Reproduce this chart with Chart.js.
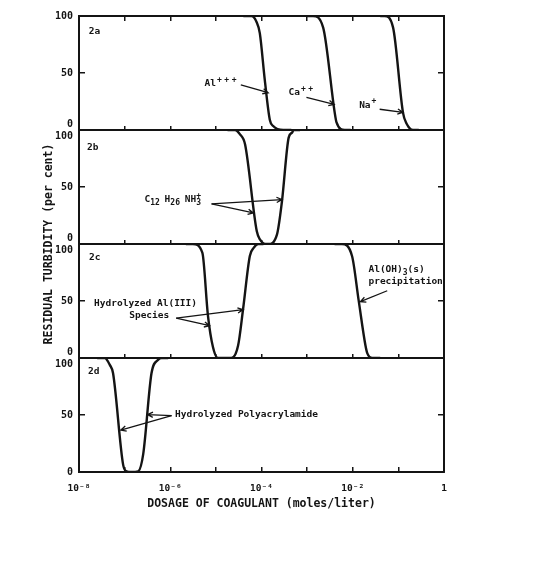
<!DOCTYPE html>
<html>
<head>
<meta charset="utf-8">
<title>Residual turbidity vs dosage of coagulant</title>
<script src="https://cdn.jsdelivr.net/npm/chart.js@4.4.1/dist/chart.umd.min.js"></script>
<style>
  html, body { margin: 0; background: #fff; }
  #chart { display: block; }
</style>
</head>
<body>
<canvas id="chart" width="551" height="571"></canvas>
<script>
// dosage of coagulant (moles/liter) against residual turbidity (per cent)
// 2a - simple ions
const alDose = [4.0e-5, 6.04e-5, 7.76e-5, 9.18e-5, 1.18e-4, 1.52e-4, 1.80e-4, 2.99e-4, 4.5e-4];
const alTurb = [100, 100, 95, 85, 44, 9, 3.5, 0, 0];
const caDose = [1.0e-3, 1.355e-3, 2.24e-3, 4.03e-3, 4.39e-3, 6.67e-3, 9.0e-3];
const caTurb = [100, 100, 90, 15, 7, 0, 0];
const naDose = [4.0e-2, 5.01e-2, 7.64e-2, 0.1265, 0.1496, 0.2094, 0.28];
const naTurb = [100, 100, 90, 15, 6, 0, 0];
// 2b - dodecylammonium
const amineDose = [1.8e-5, 2.62e-5, 3.38e-5, 4.36e-5, 7.89e-5, 9.33e-5, 1.20e-4, 1.42e-4, 2.18e-4, 2.81e-4, 3.94e-4, 4.67e-4, 5.07e-4, 7.0e-4];
const amineTurb = [100, 100, 96.2, 87.4, 11.1, 3.8, 0, 0, 8.2, 37.5, 93.3, 97.7, 100, 100];
// 2c - hydrolyzed Al(III) and Al(OH)3 precipitation
const alHydDose = [2.2e-6, 3.13e-6, 5.05e-6, 6.70e-6, 8.63e-6, 1.11e-5, 2.19e-5, 3.07e-5, 3.95e-5, 5.55e-5, 6.81e-5, 8.45e-5, 1.1e-4];
const alHydTurb = [100, 100, 92.4, 37.2, 9.6, 0, 0, 11, 43, 89.5, 96.8, 100, 100];
const alOhDose = [4.0e-3, 5.81e-3, 9.64e-3, 1.35e-2, 1.90e-2, 2.1e-2, 2.66e-2, 4.0e-2];
const alOhTurb = [100, 100, 89.5, 50.3, 11, 3.8, 0, 0];
// 2d - hydrolyzed polyacrylamide
const pamDose = [2.5e-8, 3.67e-8, 4.73e-8, 5.58e-8, 9.27e-8, 1.10e-7, 1.41e-7, 1.98e-7, 2.55e-7, 3.88e-7, 5.45e-7, 6.44e-7, 9.0e-7];
const pamTurb = [100, 100, 94, 86.6, 6.5, 0.6, 0, 0.6, 15.4, 86.6, 98.5, 100, 100];

// axis ticks
const xTickValues = [1e-8, 1e-7, 1e-6, 1e-5, 1e-4, 1e-3, 1e-2, 1e-1, 1];
const xTickText = ['10⁻⁸', '', '10⁻⁶', '', '10⁻⁴', '', '10⁻²', '', '1'];
const yTickValues = [0, 50, 100];

const ink = '#141414';
const mono = 'DejaVu Sans Mono';
const noteFont = 'bold 9.5px "DejaVu Sans Mono"';
const smallFont = 'bold 8px "DejaVu Sans Mono"';

// labels and pointers inside the panels (positions in data units)
const notes = [
    {axis: 'ya', x: 1.63e-8, y: 86, parts: [['2a']]},
    {axis: 'yb', x: 1.5e-8, y: 84.3, parts: [['2b']]},
    {axis: 'yc', x: 1.66e-8, y: 88.4, parts: [['2c']]},
    {axis: 'yd', x: 1.58e-8, y: 88, parts: [['2d']]},
    {axis: 'ya', x: 5.65e-6, y: 40.8, parts: [['Al'], ['+++', 'sup']]},
    {axis: 'ya', x: 3.9e-4, y: 32.9, parts: [['Ca'], ['++', 'sup']]},
    {axis: 'ya', x: 1.38e-2, y: 21.9, parts: [['Na'], ['+', 'sup']]},
    {axis: 'yb', x: 2.72e-7, y: 39, parts: [['C'], ['12 ', 'sub'], ['H'], ['26 ', 'sub'], ['NH'], ['3', 'sub'], ['+', 'over']]},
    {axis: 'yc', x: 2.14e-8, y: 47.4, parts: [['Hydrolyzed Al(III)']]},
    {axis: 'yc', x: 1.26e-7, y: 37.3, parts: [['Species']]},
    {axis: 'yc', x: 2.21e-2, y: 77.9, parts: [['Al(OH)'], ['3', 'sub'], ['(s)']]},
    {axis: 'yc', x: 2.21e-2, y: 67.5, parts: [['precipitation']]},
    {axis: 'yd', x: 1.27e-6, y: 50.6, parts: [['Hydrolyzed Polyacrylamide']]}
];
const pointers = [
    {axis: 'ya', from: [3.52e-5, 39.5], to: [1.40e-4, 32.7]},
    {axis: 'ya', from: [9.66e-4, 28.7], to: [3.91e-3, 22.5]},
    {axis: 'ya', from: [3.89e-2, 18.2], to: [0.126, 15.5]},
    {axis: 'yb', from: [8.04e-6, 35.2], to: [2.81e-4, 39.0]},
    {axis: 'yb', from: [8.04e-6, 35.2], to: [6.64e-5, 27.3]},
    {axis: 'yc', from: [1.35e-6, 34.9], to: [7.3e-6, 28.4]},
    {axis: 'yc', from: [1.35e-6, 34.9], to: [3.95e-5, 42.4]},
    {axis: 'yc', from: [5.7e-2, 59.0], to: [1.47e-2, 49.4]},
    {axis: 'yd', from: [1.07e-6, 49.5], to: [3.17e-7, 50.4]},
    {axis: 'yd', from: [1.07e-6, 49.5], to: [8.24e-8, 36.8]}
];

const annotate = {
    id: 'annotate',
    afterDatasetsDraw(chart) {
        const {ctx, scales} = chart;
        const sx = scales.x;
        ctx.save();
        ctx.fillStyle = ink;
        ctx.strokeStyle = ink;
        ctx.textAlign = 'left';
        ctx.textBaseline = 'middle';
        for (const n of notes) {
            let x = sx.getPixelForValue(n.x);
            const y = scales[n.axis].getPixelForValue(n.y);
            let last = x;
            for (const [text, kind] of n.parts) {
                ctx.font = kind ? smallFont : noteFont;
                ctx.letterSpacing = kind === 'sup' ? '2.5px' : '0px';
                const dy = kind === 'sub' ? 3.5 : kind ? -4 : 0;
                ctx.fillText(text, kind === 'over' ? last : x + (kind === 'sup' ? 1 : 0), y + dy);
                if (kind !== 'over') {
                    last = x;
                    x += ctx.measureText(text).width;
                }
            }
        }
        ctx.letterSpacing = '0px';
        ctx.lineWidth = 1.3;
        for (const p of pointers) {
            const sy = scales[p.axis];
            const x1 = sx.getPixelForValue(p.from[0]), y1 = sy.getPixelForValue(p.from[1]);
            const x2 = sx.getPixelForValue(p.to[0]), y2 = sy.getPixelForValue(p.to[1]);
            const a = Math.atan2(y2 - y1, x2 - x1);
            ctx.beginPath();
            ctx.moveTo(x1, y1);
            ctx.lineTo(x2, y2);
            ctx.moveTo(x2 - 6 * Math.cos(a - 0.45), y2 - 6 * Math.sin(a - 0.45));
            ctx.lineTo(x2, y2);
            ctx.lineTo(x2 - 6 * Math.cos(a + 0.45), y2 - 6 * Math.sin(a + 0.45));
            ctx.stroke();
        }
        ctx.restore();
    }
};

function curve(dose, turb, axis) {
    return {
        data: dose.map((d, i) => ({x: d, y: turb[i]})),
        xAxisID: 'x',
        yAxisID: axis,
        borderColor: ink,
        borderWidth: 2.4,
        pointRadius: 0,
        fill: false,
        cubicInterpolationMode: 'monotone'
    };
}

function yLabels(isTop, isBottom) {
    return (v) => {
        if (v === 100) return isTop ? '100' : ['', '100'];
        if (v === 0) return isBottom ? '0' : ['0', ''];
        return String(v);
    };
}

// left axis of one panel (panels stack top to bottom by weight)
function panelAxis(weight, isTop, isBottom) {
    return {
        type: 'linear', axis: 'y', position: 'left', stack: 'panels', stackWeight: 1, weight: weight,
        min: 0, max: 100,
        border: {color: ink, width: 2},
        grid: {drawOnChartArea: false, tickLength: -6, color: ink, lineWidth: 1.5},
        afterBuildTicks: s => { s.ticks = yTickValues.map(v => ({value: v})); },
        ticks: {autoSkip: false, padding: 12, color: ink, font: {family: mono, size: 10, weight: 'bold'},
                callback: yLabels(isTop, isBottom)},
        afterFit: s => { s.width = 24; s.paddingTop = 0; s.paddingBottom = 0; }
    };
}

function edgeAxis(weight) {
    return {
        type: 'linear', axis: 'y', position: 'right', stack: 'edge', stackWeight: 1, weight: weight,
        min: 0, max: 100,
        border: {color: ink, width: 2},
        grid: {drawOnChartArea: false, tickLength: -6, color: ink, lineWidth: 1.5},
        afterBuildTicks: s => { s.ticks = yTickValues.map(v => ({value: v})); },
        ticks: {display: false},
        afterFit: s => { s.width = 0; }
    };
}

function doseAxis(position, extra) {
    return Object.assign({
        type: 'logarithmic', axis: 'x', position: position,
        min: 1e-8, max: 1,
        border: {color: ink, width: 2},
        grid: {drawOnChartArea: false, tickLength: -5, color: ink, lineWidth: 1.5},
        afterBuildTicks: s => { s.ticks = xTickValues.map(v => ({value: v})); },
        ticks: {display: false},
        afterFit: s => { s.height = 0; }
    }, extra);
}

new Chart(document.getElementById('chart'), {
    type: 'line',
    data: {
        datasets: [
            curve(alDose, alTurb, 'ya'),
            curve(caDose, caTurb, 'ya'),
            curve(naDose, naTurb, 'ya'),
            curve(amineDose, amineTurb, 'yb'),
            curve(alHydDose, alHydTurb, 'yc'),
            curve(alOhDose, alOhTurb, 'yc'),
            curve(pamDose, pamTurb, 'yd')
        ]
    },
    options: {
        responsive: false,
        animation: false,
        layout: {padding: {top: 16, right: 107, bottom: 0, left: 0}},
        scales: {
            x: doseAxis('bottom', {
                ticks: {autoSkip: false, maxRotation: 0, padding: 16, color: ink,
                        font: {family: mono, size: 9.5, weight: 'bold'},
                        callback: (v, i) => xTickText[i]},
                title: {display: true, text: 'DOSAGE OF COAGULANT (moles/liter)', color: ink,
                        font: {family: mono, size: 11.5, weight: 'bold'}, padding: {top: 0, bottom: 60}},
                afterFit: s => { s.height = 99; }
            }),
            xTop: doseAxis('top'),
            xa: doseAxis({ya: 0}),
            xb: doseAxis({yb: 0}),
            xc: doseAxis({yc: 0}),
            yt: {
                type: 'linear', axis: 'y', position: 'left', weight: 10,
                border: {display: false},
                grid: {display: false},
                ticks: {display: false},
                title: {display: true, text: 'RESIDUAL TURBIDITY (per cent)', color: ink,
                        font: {family: mono, size: 11.5, weight: 'bold'}, padding: {top: 42, bottom: 0}},
                afterFit: s => { s.width = 55; }
            },
            ya: panelAxis(4, true, false),
            yb: panelAxis(3, false, false),
            yc: panelAxis(2, false, false),
            yd: panelAxis(1, false, true),
            ra: edgeAxis(1),
            rb: edgeAxis(2),
            rc: edgeAxis(3),
            rd: edgeAxis(4)
        },
        plugins: {
            legend: {display: false},
            tooltip: {enabled: false}
        }
    },
    plugins: [annotate]
});
</script>
</body>
</html>
